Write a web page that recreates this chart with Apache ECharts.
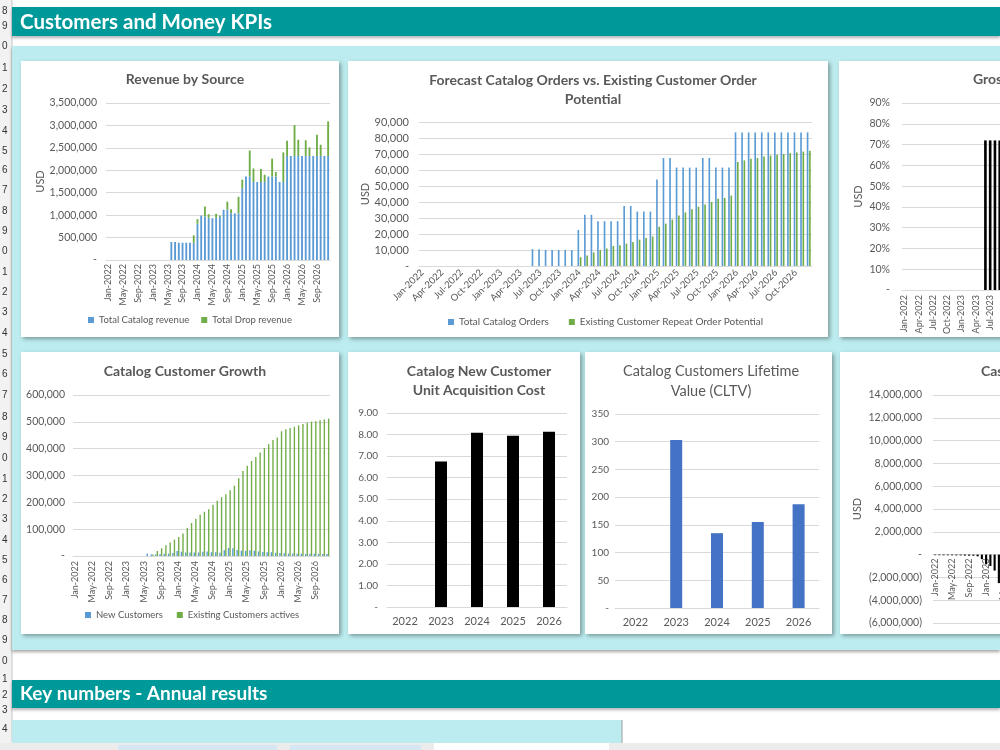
<!DOCTYPE html>
<html><head><meta charset="utf-8">
<script src="https://cdn.jsdelivr.net/npm/echarts@6/dist/echarts.min.js"></script>
<style>html,body{margin:0;padding:0;background:#fff;}#c{width:1000px;height:750px;}</style>
</head><body><div id="c"></div>
<script>
// ---------- categories ----------
const monthNames = ['Jan','Feb','Mar','Apr','May','Jun','Jul','Aug','Sep','Oct','Nov','Dec'];
const years = [2022, 2023, 2024, 2025, 2026];
const months = [];
years.forEach(y => monthNames.forEach(m => months.push(m + '-' + y)));
const yearCats = ['2022', '2023', '2024', '2025', '2026'];

// ---------- Revenue by Source (USD, monthly Jan-2022..Dec-2026) ----------
const catalogRevenue = [
  0,0,0,0,0,0,0,0,0,0,0,0,
  0,0,0,0,0,400000,400000,385000,385000,385000,385000,385000,
  810000,990000,970000,940000,930000,940000,960000,1120000,1120000,1040000,1040000,1040000,
  1600000,1860000,1860000,1740000,1740000,1740000,1740000,1860000,1860000,1860000,1740000,1740000,
  2320000,2320000,2320000,2320000,2320000,2320000,2320000,2320000,2320000,2320000,2320000,2320000
];
const dropRevenue = [
  0,0,0,0,0,0,0,0,0,0,0,0,
  0,0,0,0,0,0,0,0,0,0,0,165000,
  100000,0,220000,80000,0,90000,30000,0,180000,90000,0,370000,
  190000,0,580000,300000,0,290000,160000,0,400000,100000,0,660000,
  340000,0,690000,360000,0,350000,190000,0,470000,250000,0,770000
];

// ---------- Forecast Catalog Orders vs Existing Customer Order Potential ----------
const catalogOrders = [
  0,0,0,0,0,0,0,0,0,0,0,0,
  0,0,0,0,0,10500,10500,10000,10000,10000,10000,10000,
  22500,32000,32000,28000,28000,28000,28000,37500,37500,34000,34000,34000,
  54000,67500,67500,61500,61500,61500,61500,67500,67500,61500,61500,61500,
  83500,83500,83500,83500,83500,83500,83500,83500,83500,83500,83500,83500
];
const repeatPotential = [
  0,0,0,0,0,0,0,0,0,0,0,0,
  0,0,0,0,0,0,0,0,0,0,0,0,
  5500,6500,8500,10000,11000,12500,13000,14000,15000,16500,17500,18500,
  24500,26500,29000,31500,33500,35500,37000,38500,40000,42000,42500,44000,
  65000,66000,67000,67500,68500,69000,69500,70000,70500,71000,71500,72000
];

// ---------- Gross Margin (%) ----------
const grossMargin = [
  0,0,0,0,0,0,0,0,0,0,0,0,
  0,0,0,0,0,0.72,0.72,0.72,0.72,0.72,0.72,0.72,
  0.72,0.72,0.72,0.72,0.72,0.72,0.72,0.72,0.72,0.72,0.72,0.72,
  0.72,0.72,0.72,0.72,0.72,0.72,0.72,0.72,0.72,0.72,0.72,0.72,
  0.72,0.72,0.72,0.72,0.72,0.72,0.72,0.72,0.72,0.72,0.72,0.72
];

// ---------- Catalog Customer Growth ----------
const newCustomers = [
  0,0,0,0,0,0,0,0,0,0,0,0,
  0,0,0,0,0,9000,6000,6000,7000,8000,9000,11000,
  19000,16000,13000,13000,13000,13000,16000,17000,14000,14000,12000,21000,
  30000,29000,22000,20000,20000,21000,20000,17000,15000,14000,14000,12000,
  11000,10000,9000,9000,8500,8500,8000,8000,8000,7500,7500,7500
];
const existingActives = [
  0,0,0,0,0,0,0,0,0,0,0,0,
  0,0,0,0,0,0,6000,19000,29000,40000,50000,61000,
  71000,84000,104000,123000,139000,154000,165000,174000,191000,206000,219000,230000,
  245000,262000,290000,317000,336000,354000,369000,386000,402000,417000,432000,442000,
  465000,472000,477000,482000,487000,492000,497000,501000,502000,506000,509000,512000
];

// ---------- Annual: Unit Acquisition Cost & CLTV ----------
const unitAcqCost = [0, 6.75, 8.08, 7.95, 8.13];
const cltv = [0, 303, 135, 155, 187];

// ---------- Cash Balance (USD) ----------
const cashBalance = [
  -50000,-55000,-60000,-60000,-65000,-70000,-70000,-90000,-95000,-100000,-150000,-400000,
  -850000,-1000000,-1400000,-2500000,-3000000,-3300000,-3500000,-3700000,-3900000,-4000000,-4100000,-4200000,
  -4300000,-4200000,-4000000,-3800000,-3500000,-3200000,-2900000,-2500000,-2100000,-1700000,-1300000,-900000,
  -400000,200000,900000,1600000,2300000,3000000,3700000,4400000,5100000,5800000,6500000,7100000,
  7800000,8400000,9000000,9600000,10200000,10700000,11200000,11700000,12200000,12600000,13000000,13400000
];

// ---------- row header numbers (spreadsheet) ----------
const rowDigits = ['8','9','0','1','2','3','4','5','6','7','8','9','0','1','2','3','4','5','6','7','8','9','0','1','2','3','4','5','6','7','8','9','0','1','2','3','4'];
const rowYs = [12,27,47,69,90,111,132,152,171,191,212,232,252,273,293,313,334,355,375,396,418,438,459,480,500,520,541,561,581,601,621,641,662,680,696,711,730];

// ---------- helpers ----------
const FONT = 'Lato, "Noto Sans", sans-serif';
const GREY = '#595959';
const GRID_LINE = '#D9D9D9';
const BLUE = '#5B9BD5';
const GREEN = '#70AD47';
function fmtNum(v) {
  if (v === 0) return '-';
  const s = Math.abs(v).toLocaleString('en-US');
  return v < 0 ? '(' + s + ')' : s;
}
function fmtDec(v) { return v === 0 ? '-' : v.toFixed(2); }
function fmtPct(v) { return Math.abs(v) < 1e-9 ? '-' : Math.round(v * 100) + '%'; }

function yAx(g, min, max, interval, fmt, margin, fontSize, name, nameGap) {
  const a = {
    type: 'value', gridIndex: g, min: min, max: max, interval: interval,
    axisLine: { show: false }, axisTick: { show: false },
    splitLine: { lineStyle: { color: GRID_LINE, width: 1 } },
    axisLabel: { formatter: fmt, color: GREY, fontSize: fontSize, fontFamily: FONT, margin: margin }
  };
  if (name) {
    a.name = name; a.nameLocation = 'middle'; a.nameRotate = 90; a.nameGap = nameGap;
    a.nameTextStyle = { color: GREY, fontSize: 11, fontFamily: FONT };
  }
  return a;
}
function xAx(g, data, interval, rotate, fontSize, margin) {
  return {
    type: 'category', gridIndex: g, data: data,
    axisLine: { lineStyle: { color: GRID_LINE } }, axisTick: { show: false },
    axisLabel: { interval: interval, rotate: rotate, color: GREY, fontSize: fontSize, fontFamily: FONT, margin: margin }
  };
}
function grid(l, t, w, h) {
  return { left: l, top: t, width: w, height: h, containLabel: false, outerBoundsMode: 'none' };
}
function panel(x, y, w, h) {
  return { type: 'rect', z: -5, shape: { x: x, y: y, width: w, height: h },
    style: { fill: '#ffffff', shadowBlur: 4, shadowOffsetX: 2, shadowOffsetY: 2, shadowColor: 'rgba(0,0,0,0.35)' } };
}
function rect(x, y, w, h, fill, z) {
  return { type: 'rect', z: z || -10, shape: { x: x, y: y, width: w, height: h }, style: { fill: fill } };
}

const graphics = [
  rect(0, 0, 12, 750, '#F2F2F2', -20),
  { type: 'line', z: -19, shape: { x1: 12, y1: 0, x2: 12, y2: 742 }, style: { stroke: '#C6C6C6', lineWidth: 1 } },
  // top header
  { type: 'rect', z: -10, shape: { x: 12, y: 7, width: 988, height: 29 },
    style: { fill: '#009999', shadowBlur: 3, shadowOffsetY: 2, shadowColor: 'rgba(0,0,0,0.3)' } },
  { type: 'text', z: 10, left: 20, top: 12, style: { text: 'Customers and Money KPIs', fill: '#ffffff', fontSize: 20.5, fontWeight: 'bold', fontFamily: FONT } },
  // cyan area
  { type: 'rect', z: -12, shape: { x: 12, y: 46, width: 988, height: 604 },
    style: { fill: '#BCECEF', shadowBlur: 3, shadowOffsetY: 2, shadowColor: 'rgba(0,0,0,0.35)' } },
  panel(21, 61, 318, 276),
  panel(348, 61, 480, 276),
  panel(839, 61, 370, 276),
  panel(21, 352, 318, 282),
  panel(348, 352, 232, 282),
  panel(585, 352, 247, 282),
  panel(840, 352, 370, 282),
  // key numbers header
  { type: 'rect', z: -10, shape: { x: 12, y: 680, width: 988, height: 28 },
    style: { fill: '#009999', shadowBlur: 3, shadowOffsetY: 2, shadowColor: 'rgba(0,0,0,0.3)' } },
  { type: 'text', z: 10, left: 20, top: 684, style: { text: 'Key numbers - Annual results', fill: '#ffffff', fontSize: 19, fontWeight: 'bold', fontFamily: FONT } },
  rect(12, 720, 610, 24, '#BCECEF', -12),
  { type: 'line', z: -11, shape: { x1: 622, y1: 720, x2: 622, y2: 744 }, style: { stroke: '#A0A0A0', lineWidth: 1 } },
  // sheet tabs strip
  rect(0, 743, 1000, 7, '#ECECEC', -9),
  rect(118, 745, 159, 5, '#D6E6F4', -8),
  rect(290, 745, 131, 5, '#D6E6F4', -8),
  rect(434, 743, 175, 7, '#FFFFFF', -8)
];
rowDigits.forEach((d, i) => {
  graphics.push({ type: 'text', z: -15, left: 2, top: rowYs[i] - 6,
    style: { text: d, fill: '#333333', fontSize: 10, fontFamily: '"Liberation Sans", sans-serif' } });
});

const titleStyle = { color: GREY, fontSize: 14, fontWeight: 'bold', fontFamily: FONT, lineHeight: 19 };
const legendText = { color: GREY, fontSize: 9.5, fontFamily: FONT };

// cash grid geometry: zero line position for the category axis labels
const cashTop = 395, cashHeight = 228, cashMin = -6000000, cashMax = 14000000;
const cashZeroOffset = -cashHeight * (0 - cashMin) / (cashMax - cashMin);

const option = {
  animation: false,
  backgroundColor: '#ffffff',
  graphic: { elements: graphics },
  title: [
    { text: 'Revenue by Source', left: 180, top: 65, textAlign: 'center', textStyle: titleStyle },
    { text: 'Forecast Catalog Orders vs. Existing Customer Order\nPotential', left: 588, top: 66, textAlign: 'center', textStyle: titleStyle },
    { text: 'Gross Margin', left: 968, top: 65, textAlign: 'left', textStyle: titleStyle },
    { text: 'Catalog Customer Growth', left: 180, top: 357, textAlign: 'center', textStyle: titleStyle },
    { text: 'Catalog New Customer\nUnit Acquisition Cost', left: 474, top: 357, textAlign: 'center', textStyle: titleStyle },
    { text: 'Catalog Customers Lifetime\nValue (CLTV)', left: 706, top: 356, textAlign: 'center',
      textStyle: { color: GREY, fontSize: 14.5, fontWeight: 'normal', fontFamily: FONT, lineHeight: 20 } },
    { text: 'Cash Balance', left: 976, top: 357, textAlign: 'left', textStyle: titleStyle }
  ],
  legend: [
    { data: ['Total Catalog revenue', 'Total Drop revenue'], left: 83, top: 310, icon: 'rect', itemWidth: 6, itemHeight: 6, itemGap: 12,
      selectedMode: false, textStyle: legendText },
    { data: ['Total Catalog Orders', 'Existing Customer Repeat Order Potential'], left: 443, top: 312, icon: 'rect', itemWidth: 6, itemHeight: 6, itemGap: 20,
      selectedMode: false, textStyle: { color: GREY, fontSize: 10, fontFamily: FONT } },
    { data: ['New Customers', 'Existing Customers actives'], left: 80, top: 605, icon: 'rect', itemWidth: 6, itemHeight: 6, itemGap: 14,
      selectedMode: false, textStyle: legendText }
  ],
  grid: [
    grid(106, 103, 224, 157),
    grid(419, 122, 393, 144),
    grid(902, 103, 286, 187),
    grid(73, 395, 257, 161),
    grid(387, 413, 180, 194),
    grid(615, 414, 204, 194),
    grid(933, cashTop, 255, cashHeight)
  ],
  xAxis: [
    xAx(0, months, 3, 90, 9, 4),
    xAx(1, months, 2, 45, 9.5, 5),
    xAx(2, months, 2, 90, 9, 5),
    xAx(3, months, 3, 90, 9, 5),
    xAx(4, yearCats, 0, 0, 11, 9),
    xAx(5, yearCats, 0, 0, 11, 9),
    Object.assign(xAx(6, months, 3, 90, 9, 4), {
      offset: cashZeroOffset,
      axisLine: { onZero: false, lineStyle: { color: GRID_LINE } }
    })
  ],
  yAxis: [
    yAx(0, 0, 3500000, 500000, fmtNum, 9, 10.5, 'USD', 60),
    yAx(1, 0, 90000, 10000, fmtNum, 10, 11, 'USD', 46),
    yAx(2, 0, 0.9, 0.1, fmtPct, 12, 10.5, 'USD', 38),
    yAx(3, 0, 600000, 100000, fmtNum, 8, 10.5),
    yAx(4, 0, 9, 1, fmtDec, 9, 10),
    yAx(5, 0, 350, 50, fmtNum, 6, 10),
    yAx(6, cashMin, cashMax, 2000000, fmtNum, 11, 10.5, 'USD', 70)
  ],
  series: [
    { name: 'Total Catalog revenue', type: 'bar', xAxisIndex: 0, yAxisIndex: 0, stack: 'rev', data: catalogRevenue,
      barCategoryGap: '50%', itemStyle: { color: BLUE } },
    { name: 'Total Drop revenue', type: 'bar', xAxisIndex: 0, yAxisIndex: 0, stack: 'rev', data: dropRevenue,
      barCategoryGap: '50%', itemStyle: { color: GREEN } },
    { name: 'Total Catalog Orders', type: 'bar', xAxisIndex: 1, yAxisIndex: 1, data: catalogOrders,
      barWidth: '25%', barGap: '40%', itemStyle: { color: BLUE } },
    { name: 'Existing Customer Repeat Order Potential', type: 'bar', xAxisIndex: 1, yAxisIndex: 1, data: repeatPotential,
      barWidth: '25%', barGap: '40%', itemStyle: { color: GREEN } },
    { name: 'Gross Margin', type: 'bar', xAxisIndex: 2, yAxisIndex: 2, data: grossMargin,
      barWidth: '55%', itemStyle: { color: '#000000' } },
    { name: 'New Customers', type: 'bar', xAxisIndex: 3, yAxisIndex: 3, data: newCustomers,
      barWidth: '32%', barGap: '15%', itemStyle: { color: BLUE } },
    { name: 'Existing Customers actives', type: 'bar', xAxisIndex: 3, yAxisIndex: 3, data: existingActives,
      barWidth: '32%', barGap: '15%', itemStyle: { color: GREEN } },
    { name: 'Unit Acquisition Cost', type: 'bar', xAxisIndex: 4, yAxisIndex: 4, data: unitAcqCost,
      barWidth: 12, itemStyle: { color: '#000000' } },
    { name: 'CLTV', type: 'bar', xAxisIndex: 5, yAxisIndex: 5, data: cltv,
      barWidth: 12, itemStyle: { color: '#4472C4' } },
    { name: 'Cash Balance', type: 'bar', xAxisIndex: 6, yAxisIndex: 6, data: cashBalance,
      barWidth: '50%', itemStyle: { color: '#000000' } }
  ]
};

const chart = echarts.init(document.getElementById('c'), null, { renderer: 'canvas' });
chart.setOption(option);
</script>
</body></html>
